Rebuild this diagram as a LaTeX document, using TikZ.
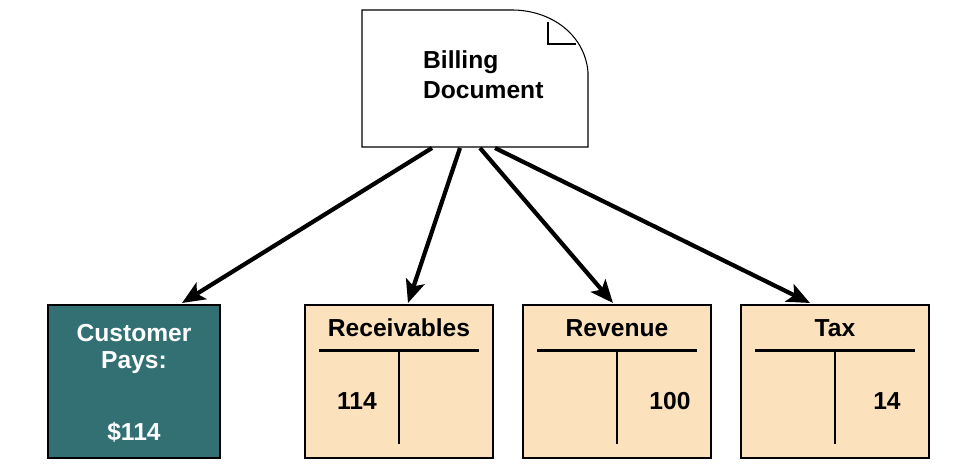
\documentclass[tikz,border=0pt]{standalone}
\usepackage{fontspec}
\setmainfont{Liberation Sans}
\usetikzlibrary{arrows.meta}
\definecolor{teal}{RGB}{50,112,116}
\definecolor{peach}{RGB}{252,226,188}
\begin{document}
\begin{tikzpicture}
			[x=0.02cm, y=-0.02cm, font=\bfseries\fontsize{14}{17}\selectfont,
			acct/.style ={draw=black, line width=1.6pt, fill=peach, minimum width=188*0.02cm, minimum height=153*0.02cm, inner sep=0pt},
			tline/.style ={line width=1.6pt},
			link/.style ={line width=2.4pt, -{Stealth[length=13pt, width=11pt, inset=3pt]}}]
			\useasboundingbox (0,0) rectangle (975,465);
			% billing document
			\node[minimum width=226*0.02cm, minimum height=137*0.02cm, inner sep=0pt] (doc) at (475,78.5) {};
			\draw[fill=white, line width=0.6pt] (362,10) -- (512,10) to [out=0,in=95] (588,72) -- (588,147) -- (362,147) -- cycle;
			\draw[line width=0.6pt] (548,22) -- (548,44) -- (576,44);
			\node[align=left, anchor=west] (title) at (417,75) {Billing\\Document};
			% accounts
			\node[draw=black, line width=1.6pt, fill=teal, minimum width=172*0.02cm, minimum height=153*0.02cm] (cust) at (134,381.5) {};
			\node[acct] (recv) at (399,381.5) {};
			\node[acct] (rev) at (617,381.5) {};
			\node[acct] (tax) at (835,381.5) {};
			\node[white] (c1) at (134,333) {Customer};
			\node[white] (c2) at (134,363) {Pays:};
			\node[white] (c3) at (134,432) {\$114};
			\foreach \n/\t/\v/\vx in {recv/Receivables/114/357, rev/Revenue/100/670, tax/Tax/14/887}{
				\node (\n-t) at ([yshift=-14pt]\n.north) {\t};
				\draw[tline] ([xshift=-80*0.02cm, yshift=-47*0.02cm]\n.north) -- ([xshift=80*0.02cm, yshift=-47*0.02cm]\n.north);
				\draw[tline] ([yshift=-47*0.02cm]\n.north) -- ([yshift=-140*0.02cm]\n.north);
				\node (\n-v) at (\vx,401) {\v};
			}
			% links
			\coordinate (s1) at (432,148);
			\coordinate (s2) at (460,148);
			\coordinate (s3) at (480,148);
			\coordinate (s4) at (495,148);
			\coordinate (e1) at (182,303);
			\coordinate (e2) at (408,303);
			\coordinate (e3) at (613,303);
			\coordinate (e4) at (810,303);
			\draw[link] (s1) -- (e1);
			\draw[link] (s2) -- (e2);
			\draw[link] (s3) -- (e3);
			\draw[link] (s4) -- (e4);
		\end{tikzpicture}
\end{document}
